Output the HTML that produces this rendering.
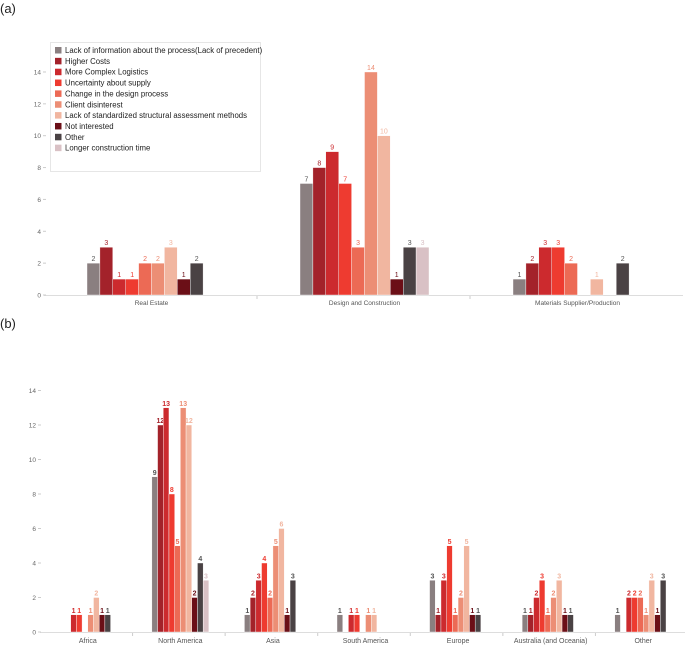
<!DOCTYPE html>
<html><head><meta charset="utf-8"><style>
body{margin:0;background:#fff;font-family:"Liberation Sans",sans-serif}
svg{display:block}
</style></head><body>
<svg id="s" width="685" height="645" xmlns="http://www.w3.org/2000/svg" font-family="Liberation Sans, sans-serif">
<text x="0" y="13" font-size="13" fill="#222">(a)</text>
<text x="0" y="328" font-size="13" fill="#222">(b)</text>
<g id="ga"></g>
<g id="gb"></g>
</svg>
<script>
const seriesNames=["Lack of information about the process(Lack of precedent)","Higher Costs","More Complex Logistics","Uncertainty about supply","Change in the design process","Client disinterest","Lack of standardized structural assessment methods","Not interested","Other","Longer construction time"];
const colors=["#8a7f80","#a3222a","#cc2a2e","#ee3b30","#ec6a55","#ec8e75","#f1b6a0","#6b0f17","#4a4244","#d9c1c5"];
const catsA=["Real Estate","Design and Construction","Materials Supplier/Production"];
const valsA=[[2,3,1,1,2,2,3,1,2,0],[7,8,9,7,3,14,10,1,3,3],[1,2,3,3,2,0,1,0,2,0]];
const ticksA=[0,2,4,6,8,10,12,14];
const catsB=["Africa","North America","Asia","South America","Europe","Australia (and Oceania)","Other"];
const valsB=[[0,0,1,1,0,1,2,1,1,0],[9,12,13,8,5,13,12,2,4,3],[1,2,3,4,2,5,6,1,3,0],[1,0,1,1,0,1,1,0,0,0],[3,1,3,5,1,2,5,1,1,0],[1,1,2,3,1,2,3,1,1,0],[1,0,2,2,2,1,3,1,3,0]];
const ticksB=[0,2,4,6,8,10,12,14];
const NS="http://www.w3.org/2000/svg";
function mk(p,t,a){const e=document.createElementNS(NS,t);for(const k in a)e.setAttribute(k,a[k]);p.appendChild(e);return e;}
function chart(g,cats,vals,ticks,o){
  const y=v=>o.y0-v*o.py;
  const x0=o.x0,gw=(o.x1-o.x0)/cats.length;
  const ax=mk(g,'line',{x1:x0,x2:o.x1,y1:o.y0+0.5,y2:o.y0+0.5,stroke:'#ddd'});
  
  
  ticks.forEach(t=>{
    const tl=mk(g,'text',{x:o.tx,y:y(t)+2.5,'font-size':6.5,fill:'#666','text-anchor':'end'});tl.textContent=t;
    
    
    const tm=mk(g,'line',{x1:o.tx+2,x2:o.tx+5,y1:y(t),y2:y(t),stroke:'#ccc'});
    
    
  });
  cats.forEach((c,i)=>{
    const cx=x0+gw*(i+0.5)+o.shift;
    if(i>0){const sep=mk(g,'line',{x1:x0+gw*i,x2:x0+gw*i,y1:o.y0+1,y2:o.y0+4,stroke:'#ccc'});
      
      }
    const cl=mk(g,'text',{x:cx,y:o.y0+o.ly,'font-size':o.lf,fill:'#555','text-anchor':'middle'});cl.textContent=c;
    
    
    const start=cx-o.bw*vals[i].length/2;
    vals[i].forEach((v,j)=>{
      if(!v)return;
      const bx=start+j*o.bw;
      const r=mk(g,'rect',{x:bx,y:y(v),width:o.bw,height:v*o.py,fill:colors[j],stroke:'#fff','stroke-width':0.4});
      
      
      const t=mk(g,'text',{x:bx+o.bw/2,y:y(v)-2,'font-size':o.vf,fill:j==0||j==8?'#555':colors[j],'text-anchor':'middle','font-weight':o.bold?'bold':'normal'});t.textContent=v;
      
      
    });
  });
}
const ga=document.getElementById('ga'),gb=document.getElementById('gb');
chart(ga,catsA,valsA,ticksA,{x0:44,x1:683,y0:295,py:15.93,bw:12.9,tx:41,ly:10,lf:6.5,vf:7,shift:1,bold:false});
chart(gb,catsB,valsB,ticksB,{x0:40,x1:688,y0:632,py:17.25,bw:5.7,tx:36,ly:11,lf:7,vf:7,shift:1.5,bold:true});
const lg=mk(ga,'g',{});


const bx=mk(lg,'rect',{x:50.5,y:42.5,width:210,height:129,fill:'#fff',stroke:'#e6e6e6'});


seriesNames.forEach((n,i)=>{
  const yy=47+i*10.85;
  const sw=mk(lg,'rect',{x:55,y:yy,width:6.5,height:6.5,fill:colors[i]});
  
  
  const t=mk(lg,'text',{x:65,y:yy+6,'font-size':7.8,fill:'#222'});t.textContent=n;
  
  
});
</script>
</body></html>
